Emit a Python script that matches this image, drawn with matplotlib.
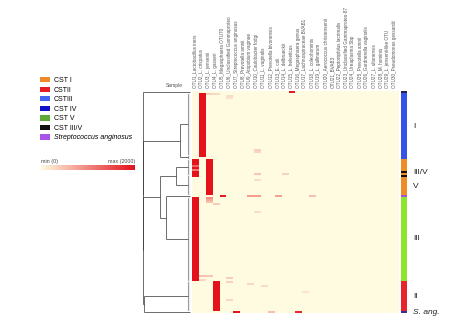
import matplotlib

matplotlib.use("Agg")
import matplotlib.pyplot as plt  # noqa: E402
import numpy as np  # noqa: E402
from matplotlib.colors import LinearSegmentedColormap  # noqa: E402
from matplotlib.patches import Patch  # noqa: E402

otu_labels = [
    "OTU1_Lactobacillus iners", "OTU2_L. crispatus", "OTU3_L. jensenii", "OTU4_L. gasseri",
    "OTU5_Megasphaera OTU70", "OTU6_Unclassified Gammaproteo", "OTU7_Streptococcus anginosus",
    "OTU8_Prevotella amnii", "OTU9_Atopobium vaginae", "OTU10_Caulobacter fodgi",
    "OTU11_L. vaginalis", "OTU12_Prevotella bivonensis", "OTU13_E. coli", "OTU14_L. delbrueckii",
    "OTU15_L. helveticus", "OTU16_Megasphaera genus", "OTU17_Lachnospiraceae BVAB1",
    "OTU18_L. coleohominis", "OTU19_L. gallinarum", "OTU20_Aerococcus christensenii",
    "OTU21_BVAB3", "OTU22_Peptoniphilus lacrimalis",
    "OTU23_Unclassified Gammaproteo-87", "OTU24_Ureaplasma Sbp", "OTU25_Prevotella amnii",
    "OTU26_Gardnerella vaginalis", "OTU27_L. ultunensis", "OTU28_M. hominis",
    "OTU29_L. jensenii-like OTU", "OTU30_Pseudomonas gessardii",
]
n_rows = 111

# (first row, end row, OTU column, reads) -- the dominant taxon of each cluster
dominant_blocks = [
    (1, 33, 1, 2000),
    (34, 43, 0, 2000),
    (34, 52, 2, 2000),
    (53, 95, 0, 2000),
    (95, 110, 3, 2000),
]
# scattered single cells (row, OTU column, reads)
minor_cells = [
    (0, 14, 1900), (1, 2, 350), (1, 3, 300), (2, 5, 250), (3, 5, 220),
    (29, 9, 380), (30, 9, 330), (37, 0, 1300), (39, 0, 1100),
    (41, 9, 450), (41, 13, 350), (44, 9, 250),
    (52, 4, 1900), (52, 8, 800), (52, 9, 800), (52, 12, 750), (52, 17, 500),
    (53, 2, 900), (54, 2, 700), (55, 2, 500), (56, 3, 400), (60, 9, 250),
    (92, 1, 500), (92, 2, 450), (93, 5, 400), (94, 1, 300),
    (95, 5, 350), (96, 8, 300), (104, 5, 300), (97, 10, 250), (100, 16, 200),
    (110, 6, 2000), (110, 15, 1800), (110, 11, 500),
]

# cluster bar: (label, colour, rows)
bar_segments = [
    ("", "#22224a", 1),
    ("I", "#3652e6", 33),
    ("", "#f08c28", 6),
    ("III/V", "#111111", 1),
    ("", "#f08c28", 1),
    ("", "#111111", 1),
    ("V", "#f08c28", 9),
    ("", "#b050e0", 1),
    ("III", "#8ce62e", 42),
    ("II", "#e8232a", 15),
    ("S. ang.", "#3030a0", 1),
]

legend_labels = ["CST I", "CSTII", "CSTIII", "CST IV", "CST V", "CST III/V",
                 "Streptococcus anginosus"]
legend_colors = ["#ee8a2a", "#e51e25", "#4466ee", "#1111cc", "#5ea836", "#111111", "#a855e8"]

# dendrogram: leaf groups of rows, tree as (distance, left, right)
leaf_groups = [(0, 1), (1, 32), (32, 34), (34, 42), (42, 52), (52, 53), (53, 95),
               (95, 110), (110, 111)]
tree = (1.0, 0, (0.995, (0.21, 1, 2),
                 (0.99, (0.64, (0.30, 3, 4), (0.51, 5, 6)), (0.985, 7, 8))))

plt.rcParams["font.family"] = ["Liberation Sans", "DejaVu Sans"]
fig = plt.figure(figsize=(4.74, 3.26), dpi=100)
W, H = 474.0, 326.0


def px_axes(x0, y0, x1, y1):
    return fig.add_axes([x0 / W, 1 - y1 / H, (x1 - x0) / W, (y1 - y0) / H])


cmap = LinearSegmentedColormap.from_list("reads", ["#fefbe1", "#e3121b"])

# heatmap
matrix = np.zeros((n_rows, len(otu_labels)))
for r0, r1, col, val in dominant_blocks:
    matrix[r0:r1, col] = val
for r, col, val in minor_cells:
    matrix[r, col] = val

ax = px_axes(191.6, 91, 397.6, 313)
ax.imshow(matrix, cmap=cmap, vmin=0, vmax=2000, aspect="auto", interpolation="nearest",
          extent=(0, len(otu_labels), n_rows, 0))
ax.xaxis.tick_top()
ax.set_xticks(np.arange(len(otu_labels)) + 0.5)
ax.set_xticklabels(otu_labels, rotation=90, fontsize=3.3, color="#555555")
ax.set_yticks([])
ax.tick_params(length=0, pad=2.5)
for s in ax.spines.values():
    s.set_visible(False)

# dendrogram
axd = px_axes(143, 91, 190, 313)
axd.set_xlim(1.0, 0.0)
axd.set_ylim(n_rows, 0)
axd.axis("off")
LEAF_H = 0.05
line_kw = dict(color="#333333", lw=0.5, clip_on=False, solid_capstyle="butt")


def draw(node):
    if isinstance(node, int):
        s, e = leaf_groups[node]
        if e - s == 1:
            return s + 0.5, 0.0
        for r in range(s, e):
            axd.plot([0, LEAF_H], [r + 0.5, r + 0.5], color="#b0b0b0", lw=0.3, clip_on=False)
        axd.plot([LEAF_H, LEAF_H], [s + 0.5, e - 0.5], color="#777777", lw=0.5, clip_on=False)
        return (s + e) / 2, LEAF_H
    h, left, right = node
    yl, hl = draw(left)
    yr, hr = draw(right)
    axd.plot([hl, h], [yl, yl], **line_kw)
    axd.plot([hr, h], [yr, yr], **line_kw)
    axd.plot([h, h], [yl, yr], **line_kw)
    return (yl + yr) / 2, h


draw(tree)
fig.text(174 / W, 1 - 86 / H, "Sample", fontsize=3.6, color="#555555", ha="center", va="center")

# cluster bar
axb = px_axes(401, 91, 407, 313)
colors = []
for _, c, n in bar_segments:
    colors += [matplotlib.colors.to_rgb(c)] * n
axb.imshow(np.array(colors)[:, None, :], aspect="auto", interpolation="nearest",
           extent=(0, 1, n_rows, 0))
axb.set_xticks([])
axb.set_yticks([])
for s in axb.spines.values():
    s.set_visible(False)
start = 0
for label, _, n in bar_segments:
    if label:
        axb.text(2.0, start + n / 2, label, fontsize=6, ha="left", va="center",
                 style="italic" if label.startswith("S.") else "normal", color="#222222")
    start += n

# cluster legend
handles = [Patch(facecolor=c, edgecolor="none") for c in legend_colors]
leg = fig.legend(handles, legend_labels, loc="upper left", bbox_to_anchor=(40 / W, 1 - 77 / H),
                 frameon=False, fontsize=5, handlelength=1.4, handleheight=0.8,
                 handletextpad=0.6, labelspacing=0.36, borderaxespad=0, borderpad=0)
leg.get_texts()[-1].set_style("italic")

# colour scale
axc = px_axes(41, 165, 135, 170)
axc.imshow(np.linspace(0, 1, 256)[None, :], cmap=cmap, aspect="auto")
axc.axis("off")
fig.text(41 / W, 1 - 161 / H, "min (0)", fontsize=3.8, color="#444444", ha="left", va="center")
fig.text(135 / W, 1 - 161 / H, "max (2000)", fontsize=3.8, color="#444444", ha="right", va="center")

fig.savefig("out.png", dpi=100)
